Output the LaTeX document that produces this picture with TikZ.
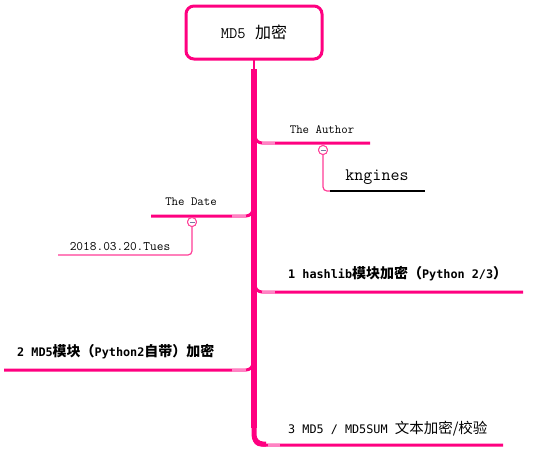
\documentclass[tikz,border=0pt]{standalone}
\usepackage{fontspec}
\newfontfamily\cjk{Noto Sans CJK SC}
\newfontfamily\smono{DejaVu Sans Mono}
\definecolor{mpink}{RGB}{255,0,128}
\definecolor{lpink}{RGB}{255,130,195}
\definecolor{tpink}{RGB}{255,60,150}
\definecolor{minusc}{RGB}{120,120,160}
\begin{document}
\begin{tikzpicture}[x=1pt,y=-1pt,
  rootbox/.style={draw=mpink,line width=3pt,rounded corners=8pt,fill=white,minimum width=136pt,minimum height=53pt},
  trunk/.style={draw=mpink,line width=6pt},
  branch/.style={draw=mpink,line width=3pt,rounded corners=7pt},
  lightseg/.style={draw=lpink,line width=3pt},
  twig/.style={draw=tpink,line width=1.2pt,rounded corners=4pt},
  collapse/.style={circle,draw=tpink,line width=0.9pt,fill=white,minimum size=9pt,inner sep=0pt},
  small/.style={inner sep=0pt,font=\fontsize{12.5}{14}\ttfamily},
  btext/.style={inner sep=0pt,anchor=west}
]
\useasboundingbox (0,0) rectangle (538,451);

% trunk and connector from root
\coordinate (tTop) at (254,69);
\coordinate (tBot) at (254,428);
\draw[mpink,line width=2.5pt] (254,58) -- (tTop);
\draw[trunk] (tTop) -- (tBot);

% branch ends
\coordinate (eA) at (370,143);
\coordinate (eD) at (151,216);
\coordinate (e1) at (523,292);
\coordinate (e2) at (4,370);
\coordinate (e3) at (503,445);

\draw[branch] (255,130) |- (eA);
\draw[branch] (253,203) |- (eD);
\draw[branch] (255,279) |- (e1);
\draw[branch] (253,357) |- (e2);
\draw[branch] (254,425) |- (e3);
\draw[mpink,line width=5pt,rounded corners=9pt] (254,420) |- (266,444);

\draw[lightseg] (262,143) -- (275,143);
\draw[lightseg] (232,216) -- (246,216);
\draw[lightseg] (262,292) -- (275,292);
\draw[lightseg] (232,370) -- (246,370);
\draw[lightseg] (268,445) -- (280,445);

% root
\node[rootbox] (root) at (254,32.5) {\fontsize{16}{18}\selectfont\ttfamily MD5\hspace{0.6em}\cjk 加密};

% author
\node[small] (author) at (322,130) {The Author};
\node[collapse] (cA) at (323,150) {};
\coordinate (kL) at (330,191);
\coordinate (kR) at (425,191);
\draw[twig] (cA.south) |- (kL);
\draw[black,line width=1.2pt] (kL) -- (kR);
\node[collapse] at (cA) {};
\draw[minusc,line width=0.8pt] ([xshift=-2.5pt]cA.center) -- ([xshift=2.5pt]cA.center);
\node[inner sep=0pt,font=\fontsize{17.5}{20}\ttfamily] (kng) at (377,177) {kngines};

% date
\node[small] (date) at (191,202) {The Date};
\node[collapse] (cD) at (192,222) {};
\coordinate (dL) at (58,255);
\draw[twig] (cD.south) |- (dL);
\node[collapse] at (cD) {};
\draw[minusc,line width=0.8pt] ([xshift=-2.5pt]cD.center) -- ([xshift=2.5pt]cD.center);
\node[inner sep=0pt,font=\fontsize{13}{15}\ttfamily] (dateval) at (120,247) {2018.03.20.Tues};

% main branches text
\node[btext] (b1) at (288,274) {\fontsize{11.8}{14}\selectfont\bfseries\smono 1 hashlib{\cjk\fontsize{14}{14}\selectfont 模块加密（}Python 2/3{\cjk\fontsize{14}{14}\selectfont ）}};
\node[btext] (b2) at (17,352) {\fontsize{11.8}{14}\selectfont\bfseries\smono 2 MD5{\cjk\fontsize{14}{14}\selectfont 模块（}Python2{\cjk\fontsize{14}{14}\selectfont 自带）加密}};
\node[btext] (b3) at (288,429) {\fontsize{11.8}{14}\selectfont\smono 3 MD5 / MD5SUM {\cjk\fontsize{14.5}{14}\selectfont 文本加密/校验}};
\end{tikzpicture}
\end{document}
